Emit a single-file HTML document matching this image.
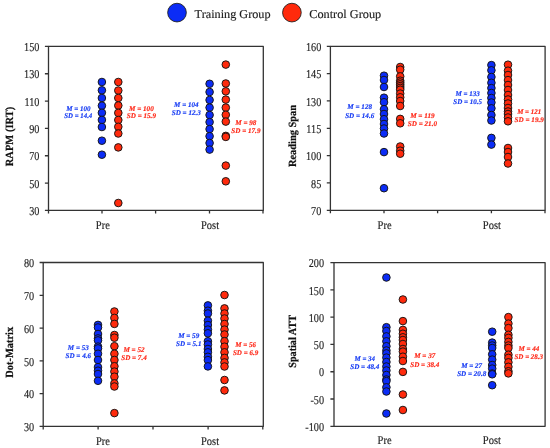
<!DOCTYPE html>
<html><head><meta charset="utf-8"><title>Training vs Control</title>
<style>html,body{margin:0;padding:0;background:#fff;}body{width:550px;height:448px;overflow:hidden;}svg{display:block;font-family:"Liberation Serif",serif;will-change:transform;text-rendering:geometricPrecision;}</style></head><body>
<svg width="550" height="448" viewBox="0 0 550 448">
<rect width="550" height="448" fill="#fff"/>
<g stroke="#1a1a1a" stroke-width="0.85">
<circle cx="177.0" cy="12.6" r="9.35" fill="#0b2cf6"/>
<circle cx="291.9" cy="12.6" r="9.35" fill="#ff2a0c"/>
</g>
<text x="194.6" y="18.0" font-size="12" fill="#1e1e1e" stroke="#1e1e1e" stroke-width="0.15" textLength="76.0" lengthAdjust="spacingAndGlyphs">Training Group</text>
<text x="309.2" y="18.0" font-size="12" fill="#1e1e1e" stroke="#1e1e1e" stroke-width="0.15" textLength="72.0" lengthAdjust="spacingAndGlyphs">Control Group</text>
<g fill="none" stroke="#333333" stroke-width="1.3" stroke-linejoin="round">
<rect x="48.5" y="46.4" width="214.8" height="164"/>
<path d="M44.9 46.4H48.5M44.9 73.73H48.5M44.9 101.07H48.5M44.9 128.4H48.5M44.9 155.73H48.5M44.9 183.07H48.5M44.9 210.4H48.5M48.5 210.4V213.4M102 210.4V213.4M155.6 210.4V213.4M209.5 210.4V213.4M263 210.4V213.4"/>
</g>
<text transform="translate(39.4 51.1) scale(0.85 1)" font-size="12" fill="#1e1e1e" stroke="#1e1e1e" stroke-width="0.15" text-anchor="end">150</text>
<text transform="translate(39.4 78.43) scale(0.85 1)" font-size="12" fill="#1e1e1e" stroke="#1e1e1e" stroke-width="0.15" text-anchor="end">130</text>
<text transform="translate(39.4 105.77) scale(0.85 1)" font-size="12" fill="#1e1e1e" stroke="#1e1e1e" stroke-width="0.15" text-anchor="end">110</text>
<text transform="translate(39.4 133.1) scale(0.85 1)" font-size="12" fill="#1e1e1e" stroke="#1e1e1e" stroke-width="0.15" text-anchor="end">90</text>
<text transform="translate(39.4 160.43) scale(0.85 1)" font-size="12" fill="#1e1e1e" stroke="#1e1e1e" stroke-width="0.15" text-anchor="end">70</text>
<text transform="translate(39.4 187.77) scale(0.85 1)" font-size="12" fill="#1e1e1e" stroke="#1e1e1e" stroke-width="0.15" text-anchor="end">50</text>
<text transform="translate(39.4 215.1) scale(0.85 1)" font-size="12" fill="#1e1e1e" stroke="#1e1e1e" stroke-width="0.15" text-anchor="end">30</text>
<text transform="translate(102.8 228.6) scale(0.89 1)" font-size="11.8" fill="#1e1e1e" stroke="#1e1e1e" stroke-width="0.15" text-anchor="middle">Pre</text>
<text transform="translate(210 228.6) scale(0.89 1)" font-size="11.8" fill="#1e1e1e" stroke="#1e1e1e" stroke-width="0.15" text-anchor="middle">Post</text>
<text transform="translate(12.5 136.5) rotate(-90)" font-size="11" font-weight="bold" fill="#111" stroke="#111" stroke-width="0.2" text-anchor="middle" textLength="59.5" lengthAdjust="spacingAndGlyphs">RAPM (IRT)</text>
<g fill="none" stroke="#333333" stroke-width="1.3" stroke-linejoin="round">
<rect x="330.4" y="46.3" width="214.7" height="164"/>
<path d="M326.8 46.3H330.4M326.8 73.63H330.4M326.8 100.97H330.4M326.8 128.3H330.4M326.8 155.63H330.4M326.8 182.97H330.4M326.8 210.3H330.4M330.4 210.3V213.3M384 210.3V213.3M437.6 210.3V213.3M491.4 210.3V213.3M545 210.3V213.3"/>
</g>
<text transform="translate(321.3 51) scale(0.85 1)" font-size="12" fill="#1e1e1e" stroke="#1e1e1e" stroke-width="0.15" text-anchor="end">160</text>
<text transform="translate(321.3 78.33) scale(0.85 1)" font-size="12" fill="#1e1e1e" stroke="#1e1e1e" stroke-width="0.15" text-anchor="end">145</text>
<text transform="translate(321.3 105.67) scale(0.85 1)" font-size="12" fill="#1e1e1e" stroke="#1e1e1e" stroke-width="0.15" text-anchor="end">130</text>
<text transform="translate(321.3 133) scale(0.85 1)" font-size="12" fill="#1e1e1e" stroke="#1e1e1e" stroke-width="0.15" text-anchor="end">115</text>
<text transform="translate(321.3 160.33) scale(0.85 1)" font-size="12" fill="#1e1e1e" stroke="#1e1e1e" stroke-width="0.15" text-anchor="end">100</text>
<text transform="translate(321.3 187.67) scale(0.85 1)" font-size="12" fill="#1e1e1e" stroke="#1e1e1e" stroke-width="0.15" text-anchor="end">85</text>
<text transform="translate(321.3 215) scale(0.85 1)" font-size="12" fill="#1e1e1e" stroke="#1e1e1e" stroke-width="0.15" text-anchor="end">70</text>
<text transform="translate(384.6 229) scale(0.89 1)" font-size="11.8" fill="#1e1e1e" stroke="#1e1e1e" stroke-width="0.15" text-anchor="middle">Pre</text>
<text transform="translate(491.9 229) scale(0.89 1)" font-size="11.8" fill="#1e1e1e" stroke="#1e1e1e" stroke-width="0.15" text-anchor="middle">Post</text>
<text transform="translate(295.6 136) rotate(-90)" font-size="11" font-weight="bold" fill="#111" stroke="#111" stroke-width="0.2" text-anchor="middle" textLength="62" lengthAdjust="spacingAndGlyphs">Reading Span</text>
<g fill="none" stroke="#333333" stroke-width="1.3" stroke-linejoin="round">
<rect x="43.2" y="262.5" width="220.1" height="163.9"/>
<path d="M39.6 262.5H43.2M39.6 295.28H43.2M39.6 328.06H43.2M39.6 360.84H43.2M39.6 393.62H43.2M39.6 426.4H43.2M43.2 426.4V429.4M98.1 426.4V429.4M153 426.4V429.4M208.1 426.4V429.4M262.8 426.4V429.4"/>
</g>
<text transform="translate(34.2 267.2) scale(0.85 1)" font-size="12" fill="#1e1e1e" stroke="#1e1e1e" stroke-width="0.15" text-anchor="end">80</text>
<text transform="translate(34.2 299.98) scale(0.85 1)" font-size="12" fill="#1e1e1e" stroke="#1e1e1e" stroke-width="0.15" text-anchor="end">70</text>
<text transform="translate(34.2 332.76) scale(0.85 1)" font-size="12" fill="#1e1e1e" stroke="#1e1e1e" stroke-width="0.15" text-anchor="end">60</text>
<text transform="translate(34.2 365.54) scale(0.85 1)" font-size="12" fill="#1e1e1e" stroke="#1e1e1e" stroke-width="0.15" text-anchor="end">50</text>
<text transform="translate(34.2 398.32) scale(0.85 1)" font-size="12" fill="#1e1e1e" stroke="#1e1e1e" stroke-width="0.15" text-anchor="end">40</text>
<text transform="translate(34.2 431.1) scale(0.85 1)" font-size="12" fill="#1e1e1e" stroke="#1e1e1e" stroke-width="0.15" text-anchor="end">30</text>
<text transform="translate(102.9 444.5) scale(0.89 1)" font-size="11.8" fill="#1e1e1e" stroke="#1e1e1e" stroke-width="0.15" text-anchor="middle">Pre</text>
<text transform="translate(210 444.5) scale(0.89 1)" font-size="11.8" fill="#1e1e1e" stroke="#1e1e1e" stroke-width="0.15" text-anchor="middle">Post</text>
<text transform="translate(13 352.3) rotate(-90)" font-size="11" font-weight="bold" fill="#111" stroke="#111" stroke-width="0.2" text-anchor="middle" textLength="51" lengthAdjust="spacingAndGlyphs">Dot-Matrix</text>
<g fill="none" stroke="#333333" stroke-width="1.3" stroke-linejoin="round">
<rect x="334" y="262.6" width="211.1" height="163.7"/>
<path d="M330.4 262.6H334M330.4 289.88H334M330.4 317.17H334M330.4 344.45H334M330.4 371.73H334M330.4 399.02H334M330.4 426.3H334"/>
</g>
<text transform="translate(324 267.3) scale(0.85 1)" font-size="12" fill="#1e1e1e" stroke="#1e1e1e" stroke-width="0.15" text-anchor="end">200</text>
<text transform="translate(324 294.58) scale(0.85 1)" font-size="12" fill="#1e1e1e" stroke="#1e1e1e" stroke-width="0.15" text-anchor="end">150</text>
<text transform="translate(324 321.87) scale(0.85 1)" font-size="12" fill="#1e1e1e" stroke="#1e1e1e" stroke-width="0.15" text-anchor="end">100</text>
<text transform="translate(324 349.15) scale(0.85 1)" font-size="12" fill="#1e1e1e" stroke="#1e1e1e" stroke-width="0.15" text-anchor="end">50</text>
<text transform="translate(324 376.43) scale(0.85 1)" font-size="12" fill="#1e1e1e" stroke="#1e1e1e" stroke-width="0.15" text-anchor="end">0</text>
<text transform="translate(324 403.72) scale(0.85 1)" font-size="12" fill="#1e1e1e" stroke="#1e1e1e" stroke-width="0.15" text-anchor="end">-50</text>
<text transform="translate(324 431) scale(0.85 1)" font-size="12" fill="#1e1e1e" stroke="#1e1e1e" stroke-width="0.15" text-anchor="end">-100</text>
<text transform="translate(384.6 444.3) scale(0.89 1)" font-size="11.8" fill="#1e1e1e" stroke="#1e1e1e" stroke-width="0.15" text-anchor="middle">Pre</text>
<text transform="translate(491.9 444.3) scale(0.89 1)" font-size="11.8" fill="#1e1e1e" stroke="#1e1e1e" stroke-width="0.15" text-anchor="middle">Post</text>
<text transform="translate(295.6 341.4) rotate(-90)" font-size="11" font-weight="bold" fill="#111" stroke="#111" stroke-width="0.2" text-anchor="middle" textLength="52.8" lengthAdjust="spacingAndGlyphs">Spatial ATT</text>
<g fill="#0b2cf6" stroke="#141414" stroke-width="0.95">
<circle cx="101.9" cy="82" r="3.8"/>
<circle cx="101.9" cy="90.3" r="3.8"/>
<circle cx="101.9" cy="98" r="3.8"/>
<circle cx="101.9" cy="105.7" r="3.8"/>
<circle cx="101.9" cy="112.8" r="3.8"/>
<circle cx="101.9" cy="119.9" r="3.8"/>
<circle cx="101.9" cy="127" r="3.8"/>
<circle cx="101.9" cy="140.7" r="3.8"/>
<circle cx="101.9" cy="154.7" r="3.8"/>
</g>
<g fill="#ff2a0c" stroke="#141414" stroke-width="0.95">
<circle cx="118.3" cy="82" r="3.8"/>
<circle cx="118.3" cy="90.5" r="3.8"/>
<circle cx="118.3" cy="98" r="3.8"/>
<circle cx="118.3" cy="105.5" r="3.8"/>
<circle cx="118.3" cy="112.9" r="3.8"/>
<circle cx="118.3" cy="120" r="3.8"/>
<circle cx="118.3" cy="126.8" r="3.8"/>
<circle cx="118.3" cy="133.5" r="3.8"/>
<circle cx="118.3" cy="147.4" r="3.8"/>
<circle cx="118.3" cy="203" r="3.8"/>
</g>
<g fill="#0b2cf6" stroke="#141414" stroke-width="0.95">
<circle cx="209.6" cy="83.8" r="3.8"/>
<circle cx="209.6" cy="92" r="3.8"/>
<circle cx="209.6" cy="100" r="3.8"/>
<circle cx="209.6" cy="107.6" r="3.8"/>
<circle cx="209.6" cy="115" r="3.8"/>
<circle cx="209.6" cy="122.1" r="3.8"/>
<circle cx="209.6" cy="129.1" r="3.8"/>
<circle cx="209.6" cy="136.2" r="3.8"/>
<circle cx="209.6" cy="143" r="3.8"/>
<circle cx="209.6" cy="149.6" r="3.8"/>
</g>
<g fill="#ff2a0c" stroke="#141414" stroke-width="0.95">
<circle cx="225.8" cy="64.6" r="3.8"/>
<circle cx="225.8" cy="83.5" r="3.8"/>
<circle cx="225.8" cy="91.3" r="3.8"/>
<circle cx="225.8" cy="99.6" r="3.8"/>
<circle cx="225.8" cy="107.6" r="3.8"/>
<circle cx="225.8" cy="114.8" r="3.8"/>
<circle cx="225.8" cy="121.6" r="3.8"/>
<circle cx="225.8" cy="135.9" r="3.8"/>
<circle cx="225.8" cy="136.9" r="3.8"/>
<circle cx="225.8" cy="165.6" r="3.8"/>
<circle cx="225.8" cy="181.3" r="3.8"/>
</g>
<g fill="#0b2cf6" stroke="#141414" stroke-width="0.95">
<circle cx="384" cy="75.7" r="3.8"/>
<circle cx="384" cy="80" r="3.8"/>
<circle cx="384" cy="87" r="3.8"/>
<circle cx="384" cy="97.7" r="3.8"/>
<circle cx="384" cy="102.2" r="3.8"/>
<circle cx="384" cy="109.2" r="3.8"/>
<circle cx="384" cy="114" r="3.8"/>
<circle cx="384" cy="119.2" r="3.8"/>
<circle cx="384" cy="124" r="3.8"/>
<circle cx="384" cy="128.5" r="3.8"/>
<circle cx="384" cy="133.5" r="3.8"/>
<circle cx="384" cy="152.1" r="3.8"/>
<circle cx="384" cy="188.2" r="3.8"/>
</g>
<g fill="#ff2a0c" stroke="#141414" stroke-width="0.95">
<circle cx="400.2" cy="67" r="3.8"/>
<circle cx="400.2" cy="69.7" r="3.8"/>
<circle cx="400.2" cy="76.4" r="3.8"/>
<circle cx="400.2" cy="80.7" r="3.8"/>
<circle cx="400.2" cy="82.5" r="3.8"/>
<circle cx="400.2" cy="84.3" r="3.8"/>
<circle cx="400.2" cy="86.1" r="3.8"/>
<circle cx="400.2" cy="87.9" r="3.8"/>
<circle cx="400.2" cy="89.7" r="3.8"/>
<circle cx="400.2" cy="93.6" r="3.8"/>
<circle cx="400.2" cy="97.3" r="3.8"/>
<circle cx="400.2" cy="101" r="3.8"/>
<circle cx="400.2" cy="106" r="3.8"/>
<circle cx="400.2" cy="118.9" r="3.8"/>
<circle cx="400.2" cy="123.3" r="3.8"/>
<circle cx="400.2" cy="146.5" r="3.8"/>
<circle cx="400.2" cy="150.7" r="3.8"/>
<circle cx="400.2" cy="153.7" r="3.8"/>
</g>
<g fill="#0b2cf6" stroke="#141414" stroke-width="0.95">
<circle cx="491.4" cy="65.1" r="3.8"/>
<circle cx="491.4" cy="70.3" r="3.8"/>
<circle cx="491.4" cy="77" r="3.8"/>
<circle cx="491.4" cy="82.8" r="3.8"/>
<circle cx="491.4" cy="88.1" r="3.8"/>
<circle cx="491.4" cy="93" r="3.8"/>
<circle cx="491.4" cy="98" r="3.8"/>
<circle cx="491.4" cy="102.5" r="3.8"/>
<circle cx="491.4" cy="108.3" r="3.8"/>
<circle cx="491.4" cy="115" r="3.8"/>
<circle cx="491.4" cy="120.5" r="3.8"/>
<circle cx="491.4" cy="137.9" r="3.8"/>
<circle cx="491.4" cy="144.6" r="3.8"/>
</g>
<g fill="#ff2a0c" stroke="#141414" stroke-width="0.95">
<circle cx="508" cy="64.7" r="3.8"/>
<circle cx="508" cy="70.7" r="3.8"/>
<circle cx="508" cy="75" r="3.8"/>
<circle cx="508" cy="80.1" r="3.8"/>
<circle cx="508" cy="85" r="3.8"/>
<circle cx="508" cy="90" r="3.8"/>
<circle cx="508" cy="95" r="3.8"/>
<circle cx="508" cy="99.5" r="3.8"/>
<circle cx="508" cy="103.5" r="3.8"/>
<circle cx="508" cy="108" r="3.8"/>
<circle cx="508" cy="111.5" r="3.8"/>
<circle cx="508" cy="114" r="3.8"/>
<circle cx="508" cy="117.5" r="3.8"/>
<circle cx="508" cy="121.3" r="3.8"/>
<circle cx="508" cy="148" r="3.8"/>
<circle cx="508" cy="152" r="3.8"/>
<circle cx="508" cy="157" r="3.8"/>
<circle cx="508" cy="163.5" r="3.8"/>
</g>
<g fill="#0b2cf6" stroke="#141414" stroke-width="0.95">
<circle cx="98" cy="324.9" r="3.8"/>
<circle cx="98" cy="327.5" r="3.8"/>
<circle cx="98" cy="334" r="3.8"/>
<circle cx="98" cy="338.4" r="3.8"/>
<circle cx="98" cy="340.4" r="3.8"/>
<circle cx="98" cy="346.6" r="3.8"/>
<circle cx="98" cy="348.4" r="3.8"/>
<circle cx="98" cy="353.75" r="3.8"/>
<circle cx="98" cy="360" r="3.8"/>
<circle cx="98" cy="367.1" r="3.8"/>
<circle cx="98" cy="370.7" r="3.8"/>
<circle cx="98" cy="374" r="3.8"/>
<circle cx="98" cy="380.8" r="3.8"/>
</g>
<g fill="#ff2a0c" stroke="#141414" stroke-width="0.95">
<circle cx="114.4" cy="311.5" r="3.8"/>
<circle cx="114.4" cy="317.9" r="3.8"/>
<circle cx="114.4" cy="323.9" r="3.8"/>
<circle cx="114.4" cy="335" r="3.8"/>
<circle cx="114.4" cy="337.7" r="3.8"/>
<circle cx="114.4" cy="346.2" r="3.8"/>
<circle cx="114.4" cy="353.75" r="3.8"/>
<circle cx="114.4" cy="360" r="3.8"/>
<circle cx="114.4" cy="366.25" r="3.8"/>
<circle cx="114.4" cy="371.6" r="3.8"/>
<circle cx="114.4" cy="376.7" r="3.8"/>
<circle cx="114.4" cy="383.4" r="3.8"/>
<circle cx="114.4" cy="386.5" r="3.8"/>
<circle cx="114.4" cy="413.1" r="3.8"/>
</g>
<g fill="#0b2cf6" stroke="#141414" stroke-width="0.95">
<circle cx="207.9" cy="305.4" r="3.8"/>
<circle cx="207.9" cy="310.7" r="3.8"/>
<circle cx="207.9" cy="313.5" r="3.8"/>
<circle cx="207.9" cy="320.7" r="3.8"/>
<circle cx="207.9" cy="325" r="3.8"/>
<circle cx="207.9" cy="329.6" r="3.8"/>
<circle cx="207.9" cy="333.3" r="3.8"/>
<circle cx="207.9" cy="341.2" r="3.8"/>
<circle cx="207.9" cy="344.5" r="3.8"/>
<circle cx="207.9" cy="349" r="3.8"/>
<circle cx="207.9" cy="352.3" r="3.8"/>
<circle cx="207.9" cy="356.8" r="3.8"/>
<circle cx="207.9" cy="360.1" r="3.8"/>
<circle cx="207.9" cy="366.4" r="3.8"/>
</g>
<g fill="#ff2a0c" stroke="#141414" stroke-width="0.95">
<circle cx="224.5" cy="295" r="3.8"/>
<circle cx="224.5" cy="308.4" r="3.8"/>
<circle cx="224.5" cy="313.5" r="3.8"/>
<circle cx="224.5" cy="318.5" r="3.8"/>
<circle cx="224.5" cy="324" r="3.8"/>
<circle cx="224.5" cy="329.6" r="3.8"/>
<circle cx="224.5" cy="334.5" r="3.8"/>
<circle cx="224.5" cy="341.2" r="3.8"/>
<circle cx="224.5" cy="346.7" r="3.8"/>
<circle cx="224.5" cy="352.3" r="3.8"/>
<circle cx="224.5" cy="357.9" r="3.8"/>
<circle cx="224.5" cy="362.4" r="3.8"/>
<circle cx="224.5" cy="366.5" r="3.8"/>
<circle cx="224.5" cy="380" r="3.8"/>
<circle cx="224.5" cy="390.4" r="3.8"/>
</g>
<g fill="#0b2cf6" stroke="#141414" stroke-width="0.95">
<circle cx="386.4" cy="277.5" r="3.8"/>
<circle cx="386.4" cy="327.2" r="3.8"/>
<circle cx="386.4" cy="331" r="3.8"/>
<circle cx="386.4" cy="336.4" r="3.8"/>
<circle cx="386.4" cy="341.3" r="3.8"/>
<circle cx="386.4" cy="346.25" r="3.8"/>
<circle cx="386.4" cy="350.5" r="3.8"/>
<circle cx="386.4" cy="353.4" r="3.8"/>
<circle cx="386.4" cy="357.6" r="3.8"/>
<circle cx="386.4" cy="362" r="3.8"/>
<circle cx="386.4" cy="366.5" r="3.8"/>
<circle cx="386.4" cy="370.5" r="3.8"/>
<circle cx="386.4" cy="375" r="3.8"/>
<circle cx="386.4" cy="379.5" r="3.8"/>
<circle cx="386.4" cy="381.1" r="3.8"/>
<circle cx="386.4" cy="387.3" r="3.8"/>
<circle cx="386.4" cy="391.5" r="3.8"/>
<circle cx="386.4" cy="413.5" r="3.8"/>
</g>
<g fill="#ff2a0c" stroke="#141414" stroke-width="0.95">
<circle cx="402.9" cy="299.5" r="3.8"/>
<circle cx="402.9" cy="321.1" r="3.8"/>
<circle cx="402.9" cy="329.9" r="3.8"/>
<circle cx="402.9" cy="333.75" r="3.8"/>
<circle cx="402.9" cy="337.3" r="3.8"/>
<circle cx="402.9" cy="340" r="3.8"/>
<circle cx="402.9" cy="344" r="3.8"/>
<circle cx="402.9" cy="349" r="3.8"/>
<circle cx="402.9" cy="351.6" r="3.8"/>
<circle cx="402.9" cy="356.7" r="3.8"/>
<circle cx="402.9" cy="361" r="3.8"/>
<circle cx="402.9" cy="371.9" r="3.8"/>
<circle cx="402.9" cy="394.5" r="3.8"/>
<circle cx="402.9" cy="410" r="3.8"/>
</g>
<g fill="#0b2cf6" stroke="#141414" stroke-width="0.95">
<circle cx="492.2" cy="331.7" r="3.8"/>
<circle cx="492.2" cy="342.6" r="3.8"/>
<circle cx="492.2" cy="345.5" r="3.8"/>
<circle cx="492.2" cy="348" r="3.8"/>
<circle cx="492.2" cy="354.3" r="3.8"/>
<circle cx="492.2" cy="359.6" r="3.8"/>
<circle cx="492.2" cy="365" r="3.8"/>
<circle cx="492.2" cy="368.6" r="3.8"/>
<circle cx="492.2" cy="373.5" r="3.8"/>
<circle cx="492.2" cy="374.3" r="3.8"/>
<circle cx="492.2" cy="385.2" r="3.8"/>
</g>
<g fill="#ff2a0c" stroke="#141414" stroke-width="0.95">
<circle cx="508.4" cy="317.1" r="3.8"/>
<circle cx="508.4" cy="323.6" r="3.8"/>
<circle cx="508.4" cy="328.1" r="3.8"/>
<circle cx="508.4" cy="334.8" r="3.8"/>
<circle cx="508.4" cy="337.9" r="3.8"/>
<circle cx="508.4" cy="341.9" r="3.8"/>
<circle cx="508.4" cy="345.5" r="3.8"/>
<circle cx="508.4" cy="348" r="3.8"/>
<circle cx="508.4" cy="354.7" r="3.8"/>
<circle cx="508.4" cy="357.9" r="3.8"/>
<circle cx="508.4" cy="362.3" r="3.8"/>
<circle cx="508.4" cy="366.8" r="3.8"/>
<circle cx="508.4" cy="371.25" r="3.8"/>
<circle cx="508.4" cy="373.4" r="3.8"/>
</g>
<g font-size="7.2" font-weight="bold" font-style="italic" fill="#1c40f4" stroke="#1c40f4" stroke-width="0.18" text-anchor="middle">
<text x="78.3" y="110.55" textLength="24.3" lengthAdjust="spacingAndGlyphs">M = 100</text>
<text x="78.3" y="118.25" textLength="28" lengthAdjust="spacingAndGlyphs">SD = 14.4</text>
</g>
<g font-size="7.2" font-weight="bold" font-style="italic" fill="#ff2c1c" stroke="#ff2c1c" stroke-width="0.18" text-anchor="middle">
<text x="141.4" y="110.55" textLength="24.7" lengthAdjust="spacingAndGlyphs">M = 100</text>
<text x="141.4" y="118.35" textLength="29.1" lengthAdjust="spacingAndGlyphs">SD = 15.9</text>
</g>
<g font-size="7.2" font-weight="bold" font-style="italic" fill="#1c40f4" stroke="#1c40f4" stroke-width="0.18" text-anchor="middle">
<text x="186.3" y="107.35" textLength="24.4" lengthAdjust="spacingAndGlyphs">M = 104</text>
<text x="186.3" y="115.05" textLength="29" lengthAdjust="spacingAndGlyphs">SD = 12.3</text>
</g>
<g font-size="7.2" font-weight="bold" font-style="italic" fill="#ff2c1c" stroke="#ff2c1c" stroke-width="0.18" text-anchor="middle">
<text x="245.9" y="124.95" textLength="21.1" lengthAdjust="spacingAndGlyphs">M = 98</text>
<text x="245.9" y="132.55" textLength="29.1" lengthAdjust="spacingAndGlyphs">SD = 17.9</text>
</g>
<g font-size="7.2" font-weight="bold" font-style="italic" fill="#1c40f4" stroke="#1c40f4" stroke-width="0.18" text-anchor="middle">
<text x="359.7" y="109.25" textLength="24.7" lengthAdjust="spacingAndGlyphs">M = 128</text>
<text x="359.7" y="117.55" textLength="29.1" lengthAdjust="spacingAndGlyphs">SD = 14.6</text>
</g>
<g font-size="7.2" font-weight="bold" font-style="italic" fill="#ff2c1c" stroke="#ff2c1c" stroke-width="0.18" text-anchor="middle">
<text x="422.4" y="117.85" textLength="24.5" lengthAdjust="spacingAndGlyphs">M = 119</text>
<text x="422.4" y="126.25" textLength="29.2" lengthAdjust="spacingAndGlyphs">SD = 21.0</text>
</g>
<g font-size="7.2" font-weight="bold" font-style="italic" fill="#1c40f4" stroke="#1c40f4" stroke-width="0.18" text-anchor="middle">
<text x="467.7" y="95.65" textLength="24.2" lengthAdjust="spacingAndGlyphs">M = 133</text>
<text x="467.7" y="103.55" textLength="28.7" lengthAdjust="spacingAndGlyphs">SD = 10.5</text>
</g>
<g font-size="7.2" font-weight="bold" font-style="italic" fill="#ff2c1c" stroke="#ff2c1c" stroke-width="0.18" text-anchor="middle">
<text x="529.2" y="114.45" textLength="24" lengthAdjust="spacingAndGlyphs">M = 121</text>
<text x="529.2" y="122.45" textLength="29.3" lengthAdjust="spacingAndGlyphs">SD = 19.9</text>
</g>
<g font-size="7.2" font-weight="bold" font-style="italic" fill="#1c40f4" stroke="#1c40f4" stroke-width="0.18" text-anchor="middle">
<text x="78.3" y="350.15" textLength="20.9" lengthAdjust="spacingAndGlyphs">M = 53</text>
<text x="78.3" y="357.95" textLength="25.5" lengthAdjust="spacingAndGlyphs">SD = 4.6</text>
</g>
<g font-size="7.2" font-weight="bold" font-style="italic" fill="#ff2c1c" stroke="#ff2c1c" stroke-width="0.18" text-anchor="middle">
<text x="134" y="352.45" textLength="21.2" lengthAdjust="spacingAndGlyphs">M = 52</text>
<text x="134" y="360.45" textLength="25.4" lengthAdjust="spacingAndGlyphs">SD = 7.4</text>
</g>
<g font-size="7.2" font-weight="bold" font-style="italic" fill="#1c40f4" stroke="#1c40f4" stroke-width="0.18" text-anchor="middle">
<text x="188.7" y="338.15" textLength="21.1" lengthAdjust="spacingAndGlyphs">M = 59</text>
<text x="188.7" y="346.15" textLength="25.5" lengthAdjust="spacingAndGlyphs">SD = 5.1</text>
</g>
<g font-size="7.2" font-weight="bold" font-style="italic" fill="#ff2c1c" stroke="#ff2c1c" stroke-width="0.18" text-anchor="middle">
<text x="245.6" y="347.15" textLength="20.7" lengthAdjust="spacingAndGlyphs">M = 56</text>
<text x="245.6" y="355.15" textLength="25.3" lengthAdjust="spacingAndGlyphs">SD = 6.9</text>
</g>
<g font-size="7.2" font-weight="bold" font-style="italic" fill="#1c40f4" stroke="#1c40f4" stroke-width="0.18" text-anchor="middle">
<text x="364.8" y="360.95" textLength="20.4" lengthAdjust="spacingAndGlyphs">M = 34</text>
<text x="364.8" y="368.95" textLength="29.1" lengthAdjust="spacingAndGlyphs">SD = 48.4</text>
</g>
<g font-size="7.2" font-weight="bold" font-style="italic" fill="#ff2c1c" stroke="#ff2c1c" stroke-width="0.18" text-anchor="middle">
<text x="424.8" y="358.25" textLength="21.1" lengthAdjust="spacingAndGlyphs">M = 37</text>
<text x="424.8" y="366.55" textLength="29.1" lengthAdjust="spacingAndGlyphs">SD = 38.4</text>
</g>
<g font-size="7.2" font-weight="bold" font-style="italic" fill="#1c40f4" stroke="#1c40f4" stroke-width="0.18" text-anchor="middle">
<text x="471.7" y="367.85" textLength="20.9" lengthAdjust="spacingAndGlyphs">M = 27</text>
<text x="471.7" y="375.85" textLength="29.1" lengthAdjust="spacingAndGlyphs">SD = 20.8</text>
</g>
<g font-size="7.2" font-weight="bold" font-style="italic" fill="#ff2c1c" stroke="#ff2c1c" stroke-width="0.18" text-anchor="middle">
<text x="528.8" y="351.05" textLength="20.7" lengthAdjust="spacingAndGlyphs">M = 44</text>
<text x="528.8" y="359.05" textLength="28.7" lengthAdjust="spacingAndGlyphs">SD = 28.3</text>
</g>
</svg></body></html>
